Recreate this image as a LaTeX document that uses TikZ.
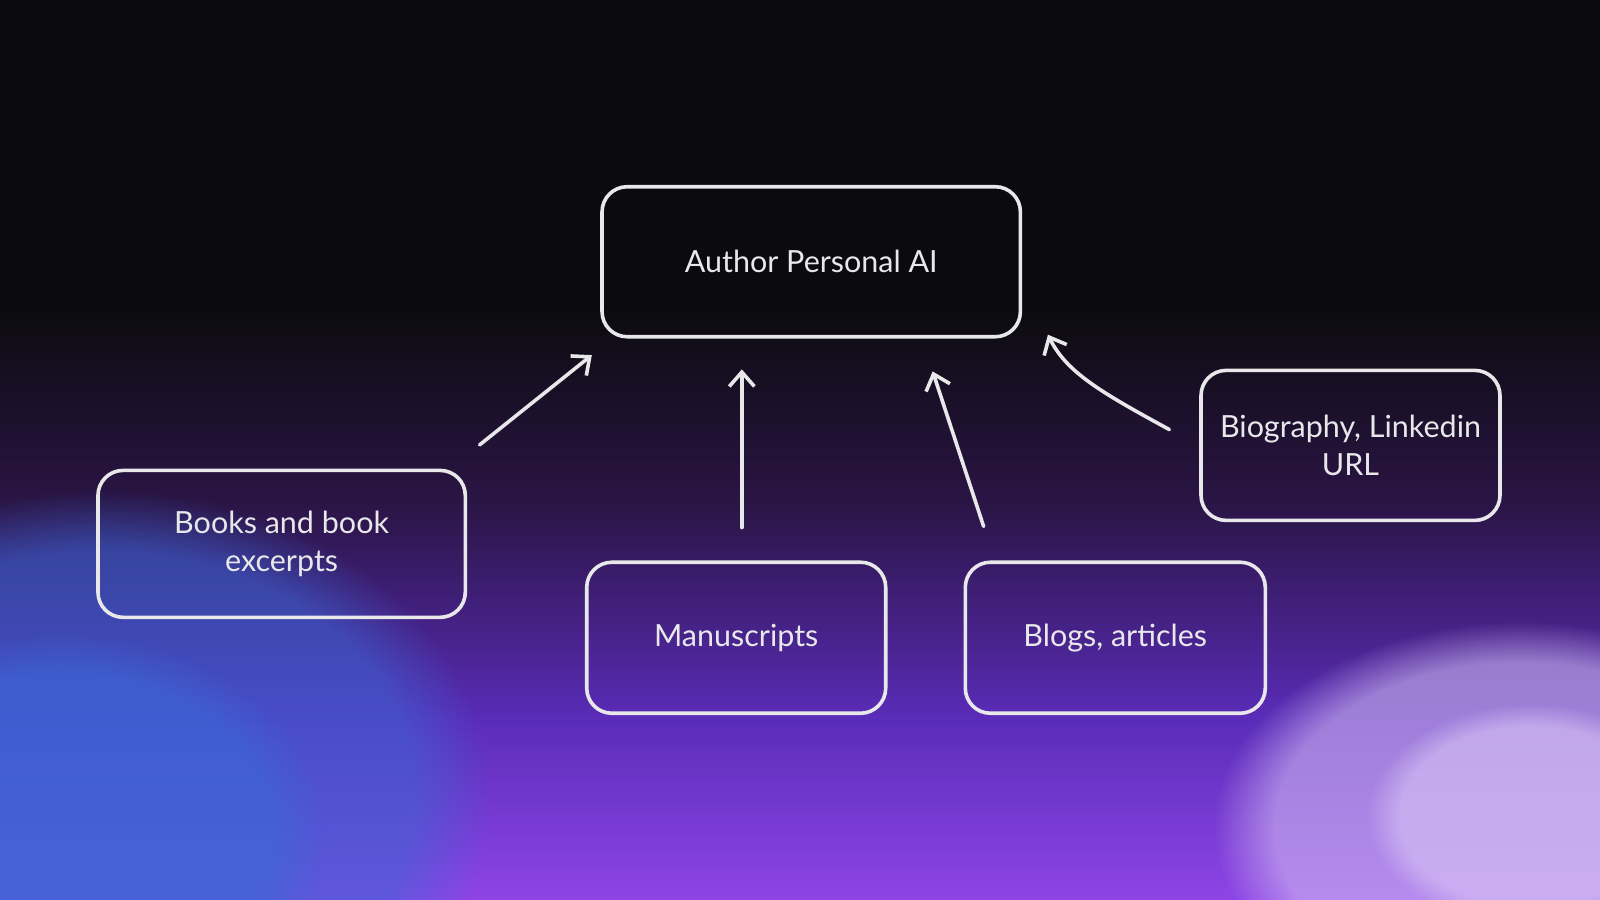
\documentclass[tikz,border=0pt]{standalone}
\usepackage{fontspec}
\setmainfont{Lato}
\usetikzlibrary{fit,fadings,arrows.meta}
\definecolor{bgtop}{HTML}{0B0B0E}
\definecolor{bgpurple}{HTML}{8E45E6}
\definecolor{bgblue}{HTML}{3A68D6}
\definecolor{bglight}{HTML}{D8C4F6}
\definecolor{ink}{HTML}{E8E8EA}
\pgfdeclareverticalshading{bgshade}{100bp}{
  color(0bp)=(bgpurple); color(25bp)=(bgpurple);
  color(35bp)=(black!25!bgpurple!85!blue);
  color(47bp)=(black!70!bgpurple);
  color(58bp)=(bgtop); color(100bp)=(bgtop)}
\tikzset{
  box/.style={draw=ink, line width=1pt, rounded corners=7pt, inner sep=0pt},
  lbl/.style={text=ink, font=\fontsize{8.5}{10.5}\selectfont, align=center},
  arr/.style={draw=ink, line width=1pt, line cap=round, -{Straight Barb[length=4pt,width=7pt,line width=1pt]}}
}
\begin{document}
\begin{tikzpicture}[x=0.01cm,y=-0.01cm]
\useasboundingbox (0,0) rectangle (1568,882);
% background
\shade[shading=bgshade] (0,0) rectangle (1568,882);
\fill[bgblue, path fading=circle with fuzzy edge 20 percent, opacity=0.55] (100,780) circle [x radius=380, y radius=300];
\fill[bgblue, path fading=circle with fuzzy edge 20 percent, opacity=0.6] (60,820) circle [x radius=260, y radius=200];
\fill[bglight, path fading=circle with fuzzy edge 20 percent, opacity=0.55] (1490,810) circle [x radius=300, y radius=200];
\fill[bglight, path fading=circle with fuzzy edge 20 percent, opacity=0.6] (1500,800) circle [x radius=160, y radius=110];
% boxes
\coordinate (a1) at (590,183); \coordinate (a2) at (1000,330);
\node[box, fit=(a1)(a2)] (author) {};
\node[lbl] at (author.center) (authort) {Author Personal AI};
\coordinate (b1) at (96,461); \coordinate (b2) at (456,605);
\node[box, fit=(b1)(b2)] (books) {};
\node[lbl] at (books.center) (bookst) {Books and book\\excerpts};
\coordinate (m1) at (575,551); \coordinate (m2) at (868,699);
\node[box, fit=(m1)(m2)] (manu) {};
\node[lbl] at (manu.center) (manut) {Manuscripts};
\coordinate (g1) at (946,551); \coordinate (g2) at (1240,699);
\node[box, fit=(g1)(g2)] (blogs) {};
\node[lbl] at (blogs.center) (blogst) {Blogs, articles};
\coordinate (y1) at (1177,363); \coordinate (y2) at (1470,510);
\node[box, fit=(y1)(y2)] (bio) {};
\node[lbl] at (bio.center) (biot) {Biography, Linkedin\\URL};
% arrows
\coordinate (s1) at (470,436); \coordinate (e1) at (580,348);
\coordinate (s2) at (727,517); \coordinate (e2) at (727,362);
\coordinate (s3) at (964,516); \coordinate (e3) at (914,364);
\coordinate (s4) at (1146,421); \coordinate (e4) at (1027,328);
\draw[arr] (s1) -- (e1);
\draw[arr] (s2) -- (e2);
\draw[arr] (s3) -- (e3);
\draw[arr] (s4) .. controls (1080,385) and (1045,365) .. (e4);
\end{tikzpicture}
\end{document}
